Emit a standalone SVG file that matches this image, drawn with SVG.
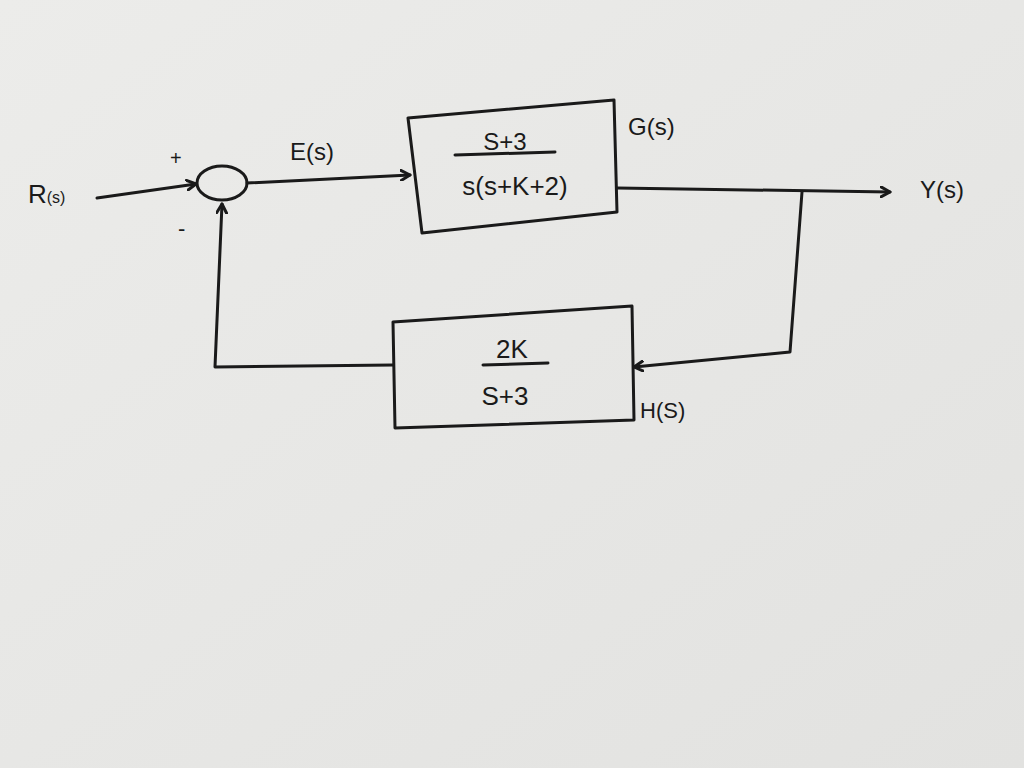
<svg xmlns="http://www.w3.org/2000/svg" width="1024" height="768" viewBox="0 0 1024 768">
<defs>
<style>
.l{stroke:#1a1a1a;stroke-width:3;fill:none;stroke-linecap:round;stroke-linejoin:round}
.t{font-family:"Liberation Sans",sans-serif;fill:#1a1a1a}
</style>
<marker id="a" markerWidth="12" markerHeight="12" refX="10" refY="6" orient="auto" markerUnits="userSpaceOnUse"><path d="M1,1 L10,6 L1,11" class="l" stroke-width="2.5"/></marker>
<linearGradient id="bg" x1="0" y1="0" x2="1" y2="1"><stop offset="0" stop-color="#ececea"/><stop offset="1" stop-color="#e2e2e0"/></linearGradient>
</defs>
<rect width="1024" height="768" fill="url(#bg)"/>
<g id="connectors">
<path class="l" d="M97,198 L196,184" marker-end="url(#a)"/>
<path class="l" d="M247,183 L410,175" marker-end="url(#a)"/>
<path class="l" d="M617,188 L890,192" marker-end="url(#a)"/>
<path class="l" d="M802,192 L790,352 L634,367" marker-end="url(#a)"/>
<path class="l" d="M393,365 L215,367 L222,204" marker-end="url(#a)"/>
</g>
<g id="sum"><ellipse class="l" cx="222" cy="183" rx="25" ry="17"/>
<text class="t" x="170" y="165" font-size="20">+</text><text class="t" x="178" y="236" font-size="22">-</text></g>
<g id="R"><text class="t" x="28" y="203" font-size="26">R<tspan font-size="16">(s)</tspan></text></g>
<g id="E"><text class="t" x="290" y="160" font-size="24">E(s)</text></g>
<g id="G"><path class="l" d="M408,118 L614,100 L617,212 L422,233 Z"/>
<text class="t" x="505" y="150" font-size="24" text-anchor="middle">S+3</text>
<path class="l" d="M455,155 L555,152"/>
<text class="t" x="515" y="195" font-size="26" text-anchor="middle">s(s+K+2)</text>
<text class="t" x="628" y="135" font-size="24">G(s)</text></g>
<g id="Y"><text class="t" x="920" y="198" font-size="24">Y(s)</text></g>
<g id="H"><path class="l" d="M393,322 L632,306 L634,420 L395,428 Z"/>
<text class="t" x="512" y="358" font-size="26" text-anchor="middle">2K</text>
<path class="l" d="M483,365 L548,363"/>
<text class="t" x="505" y="405" font-size="26" text-anchor="middle">S+3</text>
<text class="t" x="640" y="418" font-size="22">H(S)</text></g>
</svg>
